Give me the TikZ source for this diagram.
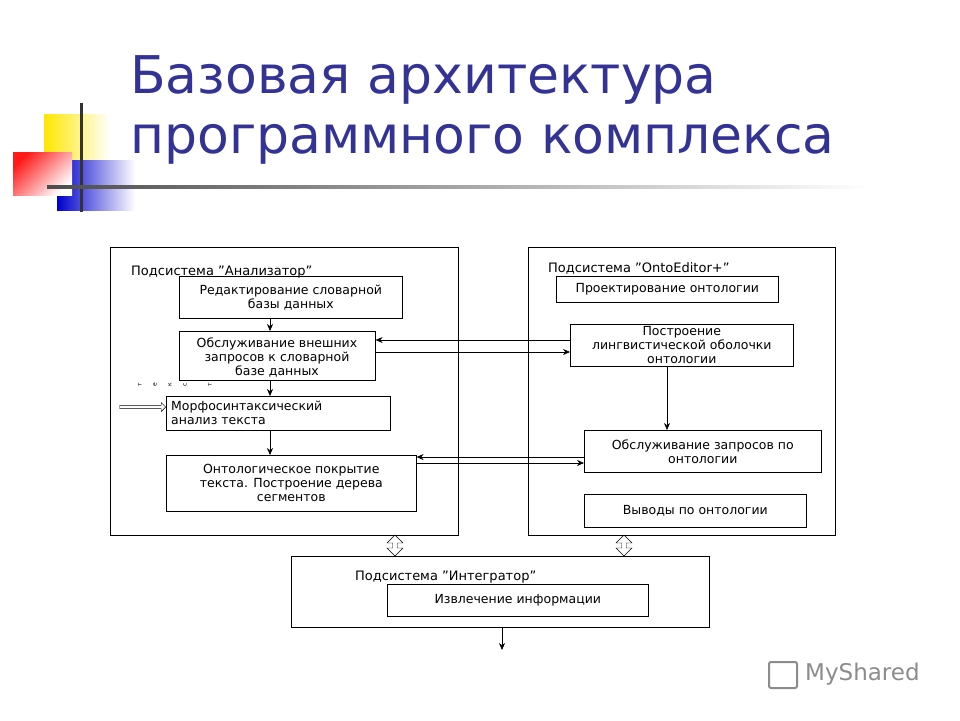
\documentclass[tikz,border=0pt]{standalone}
\usepackage{fontspec}
\setmainfont{DejaVu Sans}
\usetikzlibrary{arrows.meta,shapes.arrows}
\begin{document}
\begin{tikzpicture}[x=1pt,y=-1pt,
 box/.style={draw,semithick,align=center,font=\fontsize{12.5}{14}\selectfont,inner sep=2pt},
 lbl/.style={anchor=west,font=\fontsize{13}{14}\selectfont,inner sep=0},
 arr/.style={-{Stealth[length=7pt,width=6pt]},semithick}]
\definecolor{tblue}{RGB}{51,51,150}
\def\q{{\char34}}
\useasboundingbox (0,0) rectangle (960,720);
\fill[white] (0,0) rectangle (960,720);
% decoration
\shade[left color=yellow!80!orange, right color=white] (44,114) rectangle (110,170);
\shade[left color=blue!80!black, right color=white] (57,160) rectangle (135,210);
\shade[top color=red!90, bottom color=white,shading angle=45] (13,152) rectangle (72,195);
\draw[line width=3pt,black!80] (81,103) -- (81,212);
\shade[left color=black!70,right color=white] (47,185.5) rectangle (870,188.5);
\node[anchor=west,font=\fontsize{52}{56}\selectfont,text=tblue,align=left,inner sep=0] (title) at (130,110) {Базовая архитектура\\[4pt]программного комплекса};
% left subsystem
\node[draw,semithick,minimum width=348,minimum height=288,anchor=north west] (L) at (110,247) {};
\node[lbl] (Ll) at (131,272) {Подсистема \q Анализатор\q};
\node[box,minimum width=223,minimum height=42,anchor=north west] (b1) at (179,276) {Редактирование словарной\\базы данных};
\node[draw,semithick,minimum width=196,minimum height=49,anchor=north west] (b2) at (179,331) {};
\node[align=center,font=\fontsize{12.5}{14}\selectfont,anchor=north] (b2t) at (277,334) {Обслуживание внешних\\запросов к словарной\\базе данных};
\node[draw,semithick,minimum width=224,minimum height=34,anchor=north west] (b3) at (166,396) {};
\node[align=left,font=\fontsize{12.5}{14}\selectfont,anchor=north west,inner sep=0] (b3t) at (171,401) {Морфосинтаксический\\анализ текста};
\node[box,minimum width=250,minimum height=56,anchor=north west] (b4) at (166,455) {Онтологическое покрытие\\текста. Построение дерева\\сегментов};
\draw[arr] (b1.south-|270,0) -- (b2.north-|270,0);
\draw[arr] (b2.south-|270,0) -- (b3.north-|270,0);
\draw[arr] (b3.south-|270,0) -- (b4.north-|270,0);
\foreach \ch/\xx in {т/140,е/155,к/170,с/185,т/210}
  \node[rotate=90,font=\fontsize{6}{6}\selectfont,inner sep=0] at (\xx,385) {\ch};
\node[single arrow,draw,minimum height=46,minimum width=9,single arrow head extend=2pt,inner sep=1pt,anchor=tip] (inarr) at (b3.west|-0,407) {};
% right subsystem
\node[draw,semithick,minimum width=307,minimum height=288,anchor=north west] (R) at (528,247) {};
\node[lbl] (Rl) at (548,268) {Подсистема \q OntoEditor+\q};
\node[box,minimum width=222,minimum height=26,anchor=north west] (r1) at (556,276) {Проектирование онтологии};
\node[box,minimum width=223,minimum height=42,anchor=north west] (r2) at (570,324) {Построение\\лингвистической оболочки\\онтологии};
\node[box,minimum width=237,minimum height=42,anchor=north west] (r3) at (584,430) {Обслуживание запросов по\\онтологии};
\node[box,minimum width=222,minimum height=33,anchor=north west] (r4) at (584,494) {Выводы по онтологии};
\draw[arr] (r2.south-|667,0) -- (r3.north-|667,0);
\draw[arr] (r2.west|-0,340) -- (b2.east|-0,340);
\draw[arr] (b2.east|-0,352) -- (r2.west|-0,352);
\draw[arr] (r3.west|-0,457) -- (b4.east|-0,457);
\draw[arr] (b4.east|-0,463) -- (r3.west|-0,463);
% integrator
\node[draw,semithick,minimum width=418,minimum height=71,anchor=north west] (I) at (291,556) {};
\node[lbl] (Il) at (355,577) {Подсистема \q Интегратор\q};
\node[box,minimum width=261,minimum height=32,anchor=north west] (i1) at (387,584) {Извлечение информации};
\coordinate (out) at (502,650);
\draw[arr] (I.south-|502,0) -- (out);
\node[double arrow,draw,rotate=90,minimum height=21,minimum width=16,double arrow head extend=3pt,inner sep=1pt] (d1) at (395,545.5) {};
\node[double arrow,draw,rotate=90,minimum height=21,minimum width=16,double arrow head extend=3pt,inner sep=1pt] (d2) at (624,545.5) {};
% logo
\node[anchor=west,text=black!45,font=\fontsize{23}{24}\selectfont,inner sep=0] (logo) at (805,674) {MyShared};
\draw[black!45,line width=2pt,rounded corners=2pt] (769,662) rectangle (797,688);
\end{tikzpicture}
\end{document}
